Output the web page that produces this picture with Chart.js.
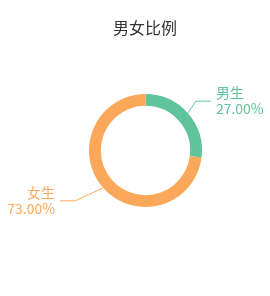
<!DOCTYPE html>
<html>
<head>
<meta charset="utf-8">
<script src="https://cdn.jsdelivr.net/npm/chart.js@4/dist/chart.umd.min.js"></script>
<style>
  html, body { margin: 0; padding: 0; background: #fff; }
  #wrap { position: relative; width: 270px; height: 296px; }
</style>
</head>
<body>
<div id="wrap"><canvas id="chart" width="270" height="296"></canvas></div>
<script>
const title = "男女比例"
const categories = ["男生", "女生"]
const percents = [27, 73]
const colors = ["#5fc39c", "#fca85a"]

const FONT = "'Noto Sans CJK SC', 'Noto Sans', sans-serif"

// leader line offsets per slice: elbow relative to the arc edge, then horizontal run
const leaders = [
  { dx: 8, dy: -12, run: 15 },
  { dx: -28, dy: 13, run: -15 }
]

const labelPlugin = {
  id: "pieLabels",
  afterDatasetsDraw(chart) {
    const ctx = chart.ctx
    const meta = chart.getDatasetMeta(0)

    ctx.save()
    ctx.font = "16px " + FONT
    ctx.fillStyle = "#333"
    ctx.textAlign = "center"
    ctx.textBaseline = "middle"
    ctx.fillText(title, 145, 28)

    meta.data.forEach((arc, i) => {
      const mid = (arc.startAngle + arc.endAngle) / 2
      const x0 = arc.x + Math.cos(mid) * arc.outerRadius
      const y0 = arc.y + Math.sin(mid) * arc.outerRadius
      const l = leaders[i]
      const x1 = x0 + l.dx
      const y1 = y0 + l.dy
      const x2 = x1 + l.run

      ctx.strokeStyle = colors[i]
      ctx.lineWidth = 1
      ctx.beginPath()
      ctx.moveTo(x0, y0)
      ctx.lineTo(x1, y1)
      ctx.lineTo(x2, y1)
      ctx.stroke()

      const right = l.run > 0
      const tx = right ? x2 + 5 : x2 - 5
      ctx.fillStyle = colors[i]
      ctx.font = "14px " + FONT
      ctx.textAlign = right ? "left" : "right"
      ctx.textBaseline = "middle"
      ctx.fillText(categories[i], tx, y1 - 8)
      ctx.fillText(percents[i].toFixed(2) + "%", tx, y1 + 8)
    })
    ctx.restore()
  }
}

new Chart(document.getElementById("chart"), {
  type: "doughnut",
  data: {
    labels: categories,
    datasets: [{
      data: percents,
      backgroundColor: colors,
      borderWidth: 0,
      hoverOffset: 0
    }]
  },
  options: {
    responsive: false,
    animation: false,
    cutout: "79%",
    layout: {
      padding: { left: 89, right: 68, top: 94, bottom: 89 }
    },
    plugins: {
      legend: { display: false },
      tooltip: { enabled: false }
    }
  },
  plugins: [labelPlugin]
})
</script>
</body>
</html>
